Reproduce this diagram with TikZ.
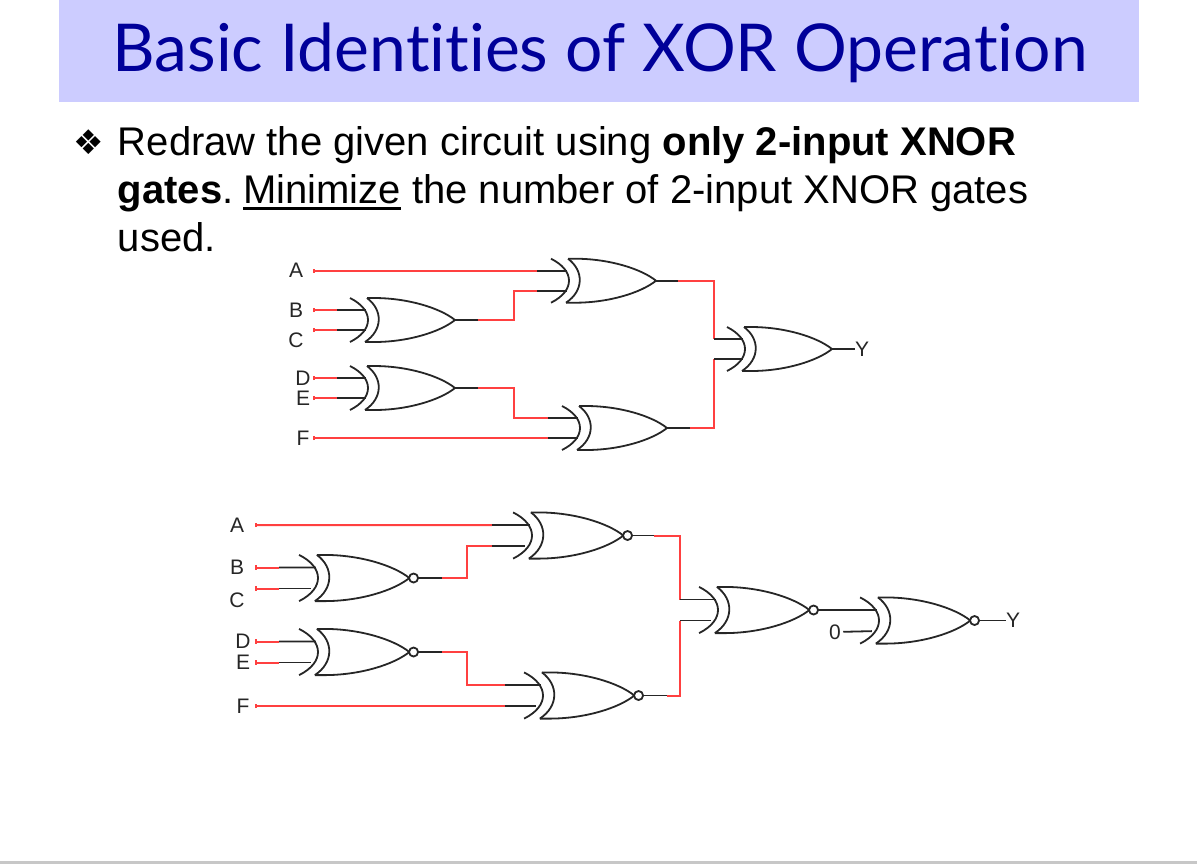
\documentclass[tikz,border=0pt]{standalone}
\usepackage{fontspec}
\setmainfont{Liberation Sans}
\newfontfamily\titlefont[Ligatures=NoCommon]{Lato}
\newfontfamily\dingfont{DejaVu Sans}
\usetikzlibrary{arrows.meta}
\definecolor{titleback}{HTML}{CCCCFF}
\definecolor{titleink}{HTML}{000099}
\definecolor{wirered}{HTML}{FF4040}
\definecolor{gateink}{HTML}{262626}
\newcommand{\thickul}[1]{\setbox0\hbox{#1}\rlap{\rule[-3.3pt]{\wd0}{1.3pt}}\box0\relax}

\begin{document}
\begin{tikzpicture}[x=0.5pt, y=-0.5pt, node distance=15pt]
  \tikzstyle{tmp} = [coordinate]
  \tikzstyle{wire} = [draw=gateink, line width=0.9pt]
  \tikzstyle{redwire} = [draw=wirered, line width=1pt, line join=miter]
  \tikzstyle{gapwire} = [wire, shorten >=2.5pt]
  \tikzstyle{startwire} = [redwire, {Bar[width=2.2pt,length=0.6pt]}-]
  \tikzstyle{pin} = [inner sep=0pt, font=\fontsize{10.5}{12}\selectfont, text=black!85]
  \tikzstyle{textline} = [anchor=base west, inner sep=0pt, font=\fontsize{20}{24}\selectfont]
  \tikzset{
    xorgate/.pic={
      \draw [wire] (-18,-22) .. controls (6,-10) and (6,10) .. (-18,22);
      \draw [wire] (-1,-22) .. controls (15,-10) and (15,10) .. (-3,22);
      \draw [wire] (-1,-22) -- (6,-22) .. controls (40,-22) and (72,-12) .. (87,0)
        .. controls (72,12) and (40,22) .. (6,22) -- (-3,22);
      \coordinate (-in1) at (-2,-10);
      \coordinate (-in2) at (-2,10);
      \coordinate (-out) at (87,0);
    },
    xnorgate/.pic={
      \draw [wire] (-18,-22) .. controls (6,-10) and (6,10) .. (-18,22);
      \draw [wire] (-1,-22) .. controls (15,-10) and (15,10) .. (-3,22);
      \draw [wire] (-1,-22) -- (6,-22) .. controls (40,-22) and (72,-12) .. (87,0)
        .. controls (72,12) and (40,22) .. (6,22) -- (-3,22);
      \draw [wire, fill=white] (91,0) circle (4.3);
      \coordinate (-in1) at (-2,-10);
      \coordinate (-in2) at (-2,10);
      \coordinate (-out) at (95.3,0);
    }
  }
  \useasboundingbox (0,0) rectangle (1197,864);

  % heading
  \fill [titleback] (59,0) rectangle (1139,102);
  \node [anchor=base, inner sep=0pt, text=titleink] (title) at (600,71)
    {\titlefont\fontsize{33}{40}\selectfont Basic Identities of XOR Operation};
  \fill [black!22] (0,861) rectangle (1197,864);

  % text
  \node [inner sep=0pt] (bullet) at (89,142) {\dingfont\fontsize{17}{20}\selectfont ❖};
  \node [textline] (line1) at (117.5,155) {Redraw the given circuit using \textbf{only 2-input XNOR}};
  \node [textline] (line2) at (117.5,203) {\textbf{gates}.\kern-2.5pt{} \thickul{Minimize} the number of 2-input XNOR gates};
  \node [textline] (line3) at (117.5,251.5) {used.};

  % upper circuit
  \node [tmp] (a1) at (313,270.7) {};
  \node [tmp] (b1) at (313,310) {};
  \node [tmp] (c1) at (313,330) {};
  \node [tmp] (d1) at (313,378) {};
  \node [tmp] (e1) at (313,398) {};
  \node [tmp] (f1) at (313,438) {};
  \node [pin, left of=a1, node distance=8.5pt] (A1) {A};
  \node [pin, left of=b1, node distance=8.5pt] (B1) {B};
  \node [pin, left of=c1, node distance=8.5pt, yshift=-5pt] (C1) {C};
  \node [pin, left of=d1, node distance=5pt] (D1) {D};
  \node [pin, left of=e1, node distance=5pt] (E1) {E};
  \node [pin, left of=f1, node distance=5pt] (F1) {F};

  \pic (g1) at (368,320) {xorgate};
  \pic (g2) at (368,388) {xorgate};
  \pic (g3) at (569,280.7) {xorgate};
  \pic (g4) at (580,428) {xorgate};
  \pic (g5) at (745,349) {xorgate};

  \node [tmp, right of=b1, node distance=12pt] (b1r) {};
  \node [tmp, right of=c1, node distance=12pt] (c1r) {};
  \node [tmp, right of=d1, node distance=12pt] (d1r) {};
  \node [tmp, right of=e1, node distance=12pt] (e1r) {};
  \node [tmp, left of=g3-in1] (a1r) {};
  \node [tmp, left of=g3-in2] (g3l) {};
  \node [tmp, left of=g4-in1] (g4l) {};
  \node [tmp, left of=g4-in2] (f1r) {};
  \node [tmp, right of=g1-out, node distance=11.5pt] (j1) {};
  \node [tmp, right of=j1, node distance=18pt] (k1) {};
  \node [tmp, right of=g2-out, node distance=11.5pt] (j2) {};
  \node [tmp, right of=j2, node distance=18pt] (k2) {};
  \node [tmp, right of=g3-out, node distance=11pt] (m3) {};
  \node [tmp, right of=g4-out, node distance=11.5pt] (m4) {};
  \node [tmp, left of=g5-in1, node distance=14.5pt] (n3) {};
  \node [tmp, left of=g5-in2, node distance=14.5pt] (n4) {};
  \node [pin, right of=g5-out, node distance=15pt] (y1) {Y};

  \draw [startwire] (a1) -- (a1r);
  \draw [startwire] (b1) -- (b1r);
  \draw [startwire] (c1) -- (c1r);
  \draw [startwire] (d1) -- (d1r);
  \draw [startwire] (e1) -- (e1r);
  \draw [startwire] (f1) -- (f1r);
  \draw [wire] (a1r) -- (g3-in1);
  \draw [wire] (b1r) -- (g1-in1);
  \draw [wire] (c1r) -- (g1-in2);
  \draw [wire] (d1r) -- (g2-in1);
  \draw [wire] (e1r) -- (g2-in2);
  \draw [wire] (f1r) -- (g4-in2);
  \draw [wire] (g1-out) -- (j1);
  \draw [redwire] (j1) -- (k1) |- (g3l);
  \draw [wire] (g3l) -- (g3-in2);
  \draw [wire] (g2-out) -- (j2);
  \draw [redwire] (j2) -- (k2) |- (g4l);
  \draw [wire] (g4l) -- (g4-in1);
  \draw [wire] (g3-out) -- (m3);
  \draw [redwire] (m3) -| (n3);
  \draw [wire] (n3) -- (g5-in1);
  \draw [wire] (g4-out) -- (m4);
  \draw [redwire] (m4) -| (n4);
  \draw [wire] (n4) -- (g5-in2);
  \draw [wire] (g5-out) -- (y1);

  % lower circuit
  \node [tmp] (a2) at (255,525) {};
  \node [tmp] (b2) at (255,567.5) {};
  \node [tmp] (c2) at (255,588.5) {};
  \node [tmp] (d2) at (255,641.5) {};
  \node [tmp] (e2) at (255,662.5) {};
  \node [tmp] (f2) at (255,706) {};
  \node [pin, left of=a2, node distance=9pt] (A2) {A};
  \node [pin, left of=b2, node distance=9pt] (B2) {B};
  \node [pin, left of=c2, node distance=9pt, yshift=-6pt] (C2) {C};
  \node [pin, left of=d2, node distance=6pt] (D2) {D};
  \node [pin, left of=e2, node distance=6pt] (E2) {E};
  \node [pin, left of=f2, node distance=6pt] (F2) {F};

  \pic [scale=1.05] (g6) at (318,578) {xnorgate};
  \pic [scale=1.05] (g7) at (318,652) {xnorgate};
  \pic [scale=1.05] (g8) at (532,535.5) {xnorgate};
  \pic [scale=1.05] (g9) at (543,695.5) {xnorgate};
  \pic [scale=1.05] (g10) at (718,610) {xnorgate};
  \pic [scale=1.05] (g11) at (879,620.5) {xnorgate};

  \node [tmp, right of=b2, node distance=12pt] (b2r) {};
  \node [tmp, right of=c2, node distance=12pt] (c2r) {};
  \node [tmp, right of=d2, node distance=12pt] (d2r) {};
  \node [tmp, right of=e2, node distance=12pt] (e2r) {};
  \node [tmp, left of=g8-in1, node distance=19pt] (a2r) {};
  \node [tmp, left of=g8-in2, node distance=19pt] (g8l) {};
  \node [tmp, left of=g9-in1, node distance=18pt] (g9l) {};
  \node [tmp, left of=g9-in2, node distance=18pt] (f2r) {};
  \node [tmp, right of=g6-out, node distance=12pt] (j3) {};
  \node [tmp, right of=j3, node distance=12.5pt] (k3) {};
  \node [tmp, right of=g7-out, node distance=12pt] (j4) {};
  \node [tmp, right of=j4, node distance=12.5pt] (k4) {};
  \node [tmp, right of=g8-out, node distance=11pt] (m5) {};
  \node [tmp, right of=g9-out, node distance=12pt] (m6) {};
  \node [tmp, left of=g10-in1, node distance=18pt] (n5) {};
  \node [tmp, left of=g10-in2, node distance=18pt] (n6) {};
  \node [pin, right of=g11-out, node distance=17pt] (y2) {Y};
  \node [pin, inner sep=1pt] (zero) at (835,632) {0};

  \draw [startwire] (a2) -- (a2r);
  \draw [startwire] (b2) -- (b2r);
  \draw [startwire] (c2) -- (c2r);
  \draw [startwire] (d2) -- (d2r);
  \draw [startwire] (e2) -- (e2r);
  \draw [startwire] (f2) -- (f2r);
  \draw [wire] (a2r) -- (g8-in1);
  \draw [wire] (b2r) -- (g6-in1);
  \draw [gapwire] (c2r) -- (g6-in2);
  \draw [wire] (d2r) -- (g7-in1);
  \draw [gapwire] (e2r) -- (g7-in2);
  \draw [gapwire] (f2r) -- (g9-in2);
  \draw [wire] (g6-out) -- (j3);
  \draw [redwire] (j3) -- (k3) |- (g8l);
  \draw [gapwire] (g8l) -- (g8-in2);
  \draw [wire] (g7-out) -- (j4);
  \draw [redwire] (j4) -- (k4) |- (g9l);
  \draw [wire] (g9l) -- (g9-in1);
  \draw [wire] (g8-out) -- (m5);
  \draw [redwire] (m5) -| (n5);
  \draw [wire] (n5) -- (g10-in1);
  \draw [wire] (g9-out) -- (m6);
  \draw [redwire] (m6) -| (n6);
  \draw [gapwire] (n6) -- (g10-in2);
  \draw [wire] (g10-out) -- (g11-in1);
  \draw [gapwire] (zero) -- (g11-in2);
  \draw [wire] (g11-out) -- (y2);
\end{tikzpicture}
\end{document}
